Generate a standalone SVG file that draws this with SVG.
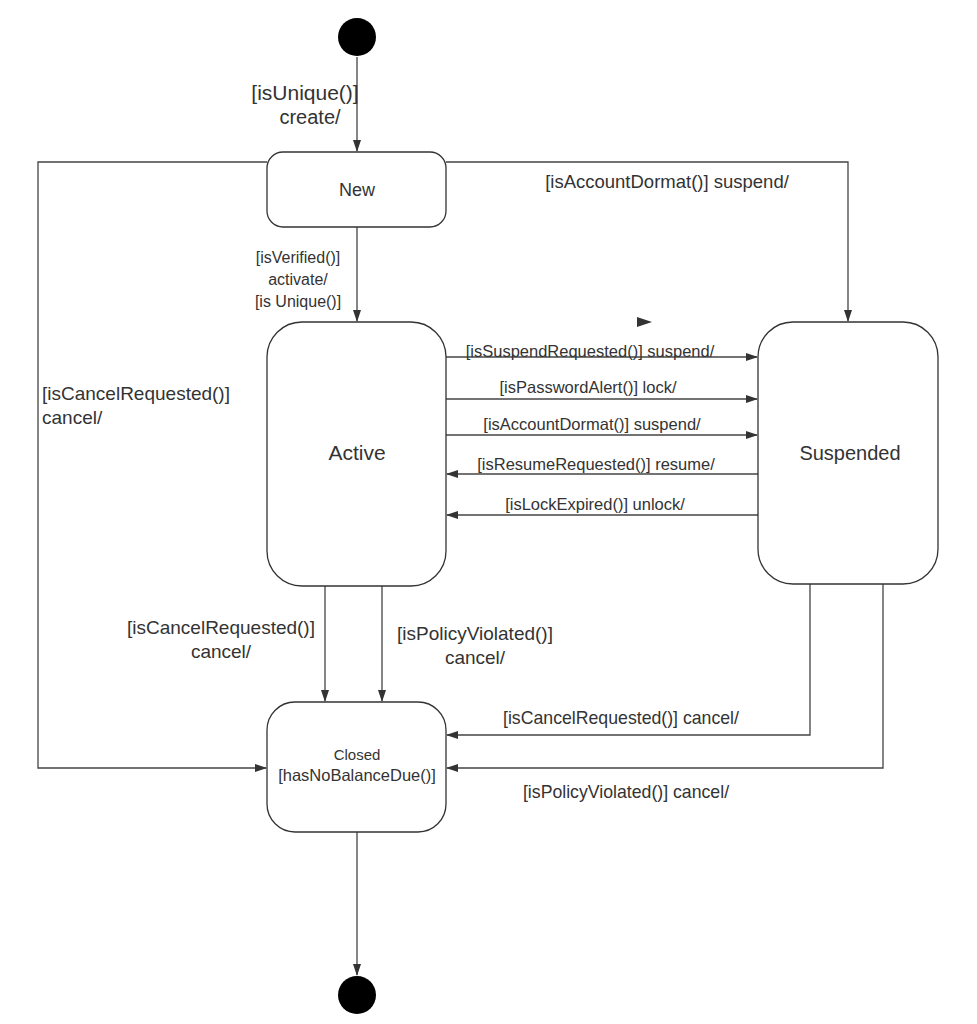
<svg xmlns="http://www.w3.org/2000/svg" width="977" height="1024" viewBox="0 0 977 1024">
<style>
.n{fill:#fff;stroke:#333;stroke-width:1.3}
.c{fill:none;stroke:#444;stroke-width:1.3;marker-end:url(#a)}
text{font-family:"Liberation Sans",Arial,sans-serif;fill:#333}
</style>
<defs><marker id="a" markerWidth="12" markerHeight="8" refX="11" refY="4" orient="auto" markerUnits="userSpaceOnUse"><path d="M0,0L12,4L0,8z" fill="#333"/></marker></defs>
<rect width="977" height="1024" fill="#fff"/>
<g id="connectors">
<path class="c" d="M357,57V151"/>
<path class="c" d="M357,227V321"/>
<path class="c" d="M267,162H38V768H266"/>
<path class="c" d="M446,162H848V321"/>
<path class="c" d="M446,357H757"/>
<path class="c" d="M446,399H757"/>
<path class="c" d="M446,435H757"/>
<path class="c" d="M758,474H447"/>
<path class="c" d="M758,515H447"/>
<path class="c" d="M325,586V701"/>
<path class="c" d="M382,586V701"/>
<path class="c" d="M810,584V735H447"/>
<path class="c" d="M883,584V768H447"/>
<path class="c" d="M357,832V975"/>
<path d="M637,317L652,322L637,327z" fill="#333"/>
<text x="305" y="100" font-size="21" text-anchor="middle">[isUnique()]</text>
<text x="310" y="124" font-size="20" text-anchor="middle">create/</text>
<text x="667" y="188" font-size="18.5" text-anchor="middle">[isAccountDormat()] suspend/</text>
<text x="298" y="263" font-size="16" text-anchor="middle">[isVerified()]</text>
<text x="298" y="285" font-size="16" text-anchor="middle">activate/</text>
<text x="298" y="307" font-size="16" text-anchor="middle">[is Unique()]</text>
<text x="42" y="400" font-size="19">[isCancelRequested()]</text>
<text x="42" y="424" font-size="19">cancel/</text>
<text x="590" y="357" font-size="16.5" text-anchor="middle">[isSuspendRequested()] suspend/</text>
<text x="588" y="393" font-size="16.5" text-anchor="middle">[isPasswordAlert()] lock/</text>
<text x="592" y="430" font-size="16.5" text-anchor="middle">[isAccountDormat()] suspend/</text>
<text x="596" y="470" font-size="16.5" text-anchor="middle">[isResumeRequested()] resume/</text>
<text x="595" y="510" font-size="16.5" text-anchor="middle">[isLockExpired()] unlock/</text>
<text x="221" y="634" font-size="19" text-anchor="middle">[isCancelRequested()]</text>
<text x="221" y="658" font-size="19" text-anchor="middle">cancel/</text>
<text x="475" y="640" font-size="19" text-anchor="middle">[isPolicyViolated()]</text>
<text x="475" y="664" font-size="19" text-anchor="middle">cancel/</text>
<text x="621" y="724" font-size="17.7" text-anchor="middle">[isCancelRequested()] cancel/</text>
<text x="626" y="798" font-size="17.7" text-anchor="middle">[isPolicyViolated()] cancel/</text>
</g>
<g id="start"><circle cx="357" cy="37" r="19" fill="#000"/></g>
<g id="new"><rect class="n" x="267" y="152" width="179" height="75" rx="16"/><text x="357" y="196" font-size="18" text-anchor="middle">New</text></g>
<g id="active"><rect class="n" x="267" y="322" width="179" height="264" rx="35"/><text x="357" y="460" font-size="21" text-anchor="middle">Active</text></g>
<g id="suspended"><rect class="n" x="758" y="322" width="180" height="262" rx="35"/><text x="850" y="460" font-size="20" text-anchor="middle">Suspended</text></g>
<g id="closed"><rect class="n" x="267" y="702" width="179" height="130" rx="28"/><text x="357" y="760" font-size="15" text-anchor="middle">Closed</text><text x="357" y="781" font-size="16.5" text-anchor="middle">[hasNoBalanceDue()]</text></g>
<g id="end"><circle cx="357" cy="995" r="19" fill="#000"/></g>
</svg>
